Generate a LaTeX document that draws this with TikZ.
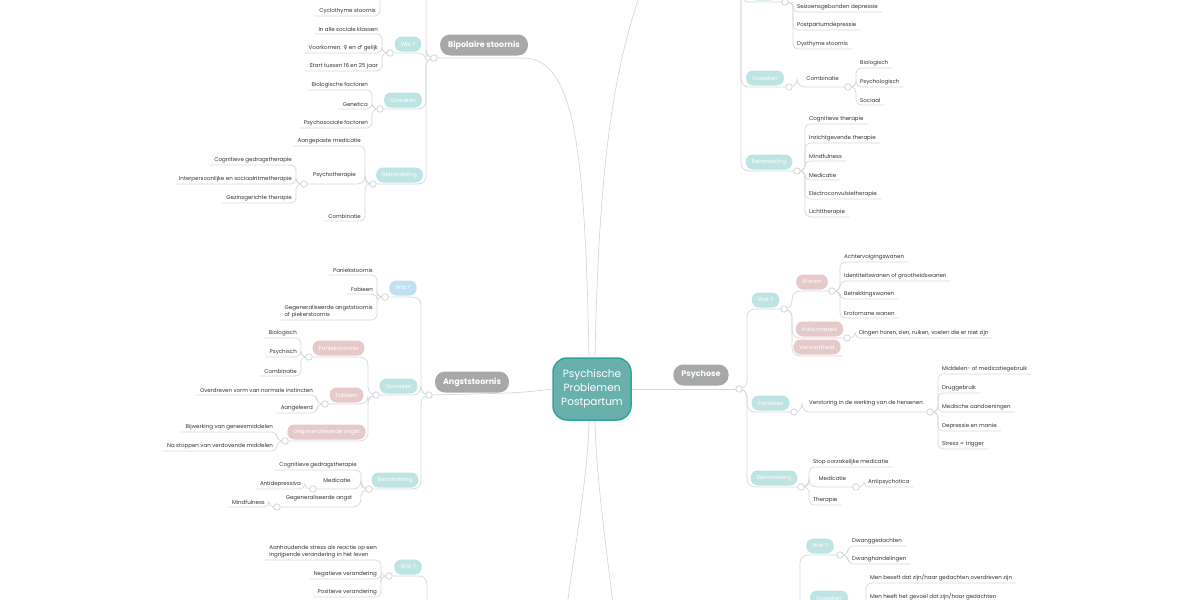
\documentclass[tikz,border=0pt]{standalone}
\usepackage{fontspec}
\setmainfont{Poppins}
\newfontfamily\symfont{DejaVu Sans}
\usetikzlibrary{calc}
\definecolor{linkc}{HTML}{D2D7DA}
\definecolor{pillc}{HTML}{BEE3E3}
\definecolor{pillb}{HTML}{C0DFF2}
\definecolor{pillp}{HTML}{E6CACA}
\definecolor{mainc}{HTML}{A7A8A9}
\definecolor{centc}{HTML}{69B0AC}
\definecolor{centd}{HTML}{2EA69E}
\definecolor{leaft}{HTML}{333333}
\tikzset{
  link/.style={draw=linkc, line width=0.7pt},
  leaf/.style={inner xsep=4pt, inner ysep=2pt, align=left, text=leaft, font=\fontsize{5.5}{7}\selectfont},
  plain/.style={leaf},
  pill/.style={rounded corners=7pt, minimum height=15pt, inner xsep=6pt, inner ysep=0pt, text=white, font=\fontsize{5.5}{6}\selectfont},
  pillC/.style={pill, fill=pillc},
  pillB/.style={pill, fill=pillb},
  pillP/.style={pill, fill=pillp},
  main/.style={rounded corners=10pt, minimum height=21pt, inner xsep=8pt, fill=mainc, text=white, font=\fontsize{8}{9}\selectfont\bfseries},
  junc/.style={circle, draw=linkc, line width=0.8pt, fill=white, inner sep=0pt, minimum size=6.5pt}
}
% leaves: name, parent junction, line y, text
\newcommand{\leafL}[4]{
  \node[leaf, anchor=south east, xshift=-8pt] (#1) at (#2 |- 0,#3) {#4};
  \draw[link, rounded corners=5pt] (#2) -| (#1.south east) -- (#1.south west);
}
\newcommand{\leafR}[4]{
  \node[leaf, anchor=south west, xshift=8pt] (#1) at (#2 |- 0,#3) {#4};
  \draw[link, rounded corners=5pt] (#2) -| (#1.south west) -- (#1.south east);
}
% sub branches: name, parent junction, line y, length, style, text
\newcommand{\catL}[6]{
  \coordinate (#1-e) at ($(#2 |- 0,#3)+(-8,0)$);
  \coordinate (#1-j) at ($(#1-e)+(-#4,0)$);
  \draw[link, rounded corners=8pt] (#2) -| (#1-e) -- (#1-j);
  \node[#5] (#1) at ($(#1-e)!0.5!(#1-j)+(0,-9)$) {#6};
}
\newcommand{\catR}[6]{
  \coordinate (#1-e) at ($(#2 |- 0,#3)+(8,0)$);
  \coordinate (#1-j) at ($(#1-e)+(#4,0)$);
  \draw[link, rounded corners=8pt] (#2) -| (#1-e) -- (#1-j);
  \node[#5] (#1) at ($(#1-e)!0.5!(#1-j)+(0,-9)$) {#6};
}
\begin{document}
\begin{tikzpicture}[x=1pt, y=-1pt]
\useasboundingbox (0,0) rectangle (1200,600);

% centre
\node[rounded corners=14pt, fill=centc, draw=centd, line width=1.5pt, minimum width=78pt, minimum height=62pt, align=center, text=white, font=\fontsize{10.5}{14}\selectfont] (cen) at (592,389) {Psychische\\Problemen\\Postpartum};

% main branches
\coordinate (bip-e) at (523,58);
\coordinate (bip-j) at (434,58);
\draw[link] ([xshift=-3pt]cen.north) .. controls (585,150) and (575,58) .. (bip-e) -- (bip-j);
\node[main] (bip) at (484,45) {Bipolaire stoornis};

\coordinate (ang-j) at (429,395);
\draw[link] (cen.west) .. controls (520,393) .. (ang-j);
\node[main] (ang) at (472,382) {Angststoornis};

\coordinate (psy-j) at (739,389);
\draw[link] (cen.east) -- (psy-j);
\node[main] (psy) at (701,375) {Psychose};

\coordinate (dep-j) at (733,-60);
\draw[link] ([xshift=3pt]cen.north) .. controls (600,100) and (625,30) .. (660,-60) -- (dep-j);

\coordinate (aanp-j) at (435,660);
\draw[link] ([xshift=-3pt]cen.south) .. controls (588,480) and (572,560) .. (560,660) -- (aanp-j);

\coordinate (ocd-j) at (792,660);
\draw[link] ([xshift=3pt]cen.south) .. controls (596,480) and (608,560) .. (620,660) -- (ocd-j);

% Bipolaire stoornis
\catL{bwat}{bip-j}{-25}{38}{pillC}{Wat ?}
\leafL{cyc}{bwat-j}{16}{Cyclothyme stoornis}
\catL{bwie}{bip-j}{53}{36}{pillC}{Wie ?}
\leafL{soc}{bwie-j}{34}{In alle sociale klassen}
\leafL{voo}{bwie-j}{53}{Voorkomen: {\symfont ♀} en {\symfont ♂} gelijk}
\leafL{sta}{bwie-j}{71}{Start tussen 16 en 25 jaar}
\catL{boor}{bip-j}{109}{46}{pillC}{Oorzaken}
\leafL{bio}{boor-j}{90}{Biologische factoren}
\leafL{gen}{boor-j}{109}{Genetica}
\leafL{psf}{boor-j}{128}{Psychosociale factoren}
\catL{bbeh}{bip-j}{184}{53}{pillC}{Behandeling}
\leafL{aan}{bbeh-j}{146}{Aangepaste medicatie}
\catL{bpsy}{bbeh-j}{184}{61}{plain}{Psychotherapie}
\leafL{cgt}{bpsy-j}{165}{Cognitieve gedragstherapie}
\leafL{ipt}{bpsy-j}{184}{Interpersoonlijke en sociaalritmetherapie}
\leafL{gez}{bpsy-j}{203}{Gezinsgerichte therapie}
\leafL{com}{bbeh-j}{221}{Combinatie}

% Angststoornis
\catL{awat}{ang-j}{297}{36}{pillB}{Wat ?}
\leafL{pan}{awat-j}{275}{Paniekstoornis}
\leafL{fob}{awat-j}{294}{Fobieen}
\leafL{gas}{awat-j}{320}{Gegeneraliseerde angststoornis\\of piekerstoornis}
\catL{aoor}{ang-j}{395}{45}{pillC}{Oorzaken}
\catL{apan}{aoor-j}{357}{59}{pillP}{Paniekstoornis}
\leafL{abio}{apan-j}{338}{Biologisch}
\leafL{apsy}{apan-j}{357}{Psychisch}
\leafL{acom}{apan-j}{376}{Combinatie}
\catL{afob}{aoor-j}{404}{43}{pillP}{Fobieen}
\leafL{ins}{afob-j}{395}{Overdreven vorm van normale instincten}
\leafL{gel}{afob-j}{413}{Aangeleerd}
\catL{agen}{aoor-j}{441}{83}{pillP}{Gegeneraliseerde angst}
\leafL{bij}{agen-j}{432}{Bijwerking van geneesmiddelen}
\leafL{nas}{agen-j}{451}{Na stoppen van verdovende middelen}
\catL{abeh}{ang-j}{489}{52}{pillC}{Behandeling}
\leafL{acgt}{abeh-j}{470}{Cognitieve gedragstherapie}
\catL{amed}{abeh-j}{489}{48}{plain}{Medicatie}
\leafL{ad}{amed-j}{489}{Antidepressiva}
\catL{aga}{abeh-j}{507}{84}{plain}{Gegeneraliseerde angst}
\leafL{mf}{aga-j}{507}{Mindfulness}

% onderaan links
\catL{pwat}{aanp-j}{576}{38}{pillC}{Wat ?}
\leafL{aanh}{pwat-j}{560}{Aanhoudende stress als reactie op een\\ingrijpende verandering in het leven}
\leafL{neg}{pwat-j}{579}{Negatieve verandering}
\leafL{pos}{pwat-j}{597}{Positieve verandering}

% bovenaan rechts
\catR{dwat}{dep-j}{2}{44}{pillC}{Wat ?}
\leafR{s1}{dwat-j}{12}{Seizoensgebonden depressie}
\leafR{s2}{dwat-j}{30}{Postpartumdepressie}
\leafR{s3}{dwat-j}{49}{Dysthyme stoornis}
\catR{door}{dep-j}{87}{48}{pillC}{Oorzaken}
\catR{dcom}{door-j}{87}{51}{plain}{Combinatie}
\leafR{dbio}{dcom-j}{68}{Biologisch}
\leafR{dpsy}{dcom-j}{87}{Psychologisch}
\leafR{dsoc}{dcom-j}{105}{Sociaal}
\catR{dbeh}{dep-j}{171}{56}{pillC}{Behandeling}
\leafR{t1}{dbeh-j}{124}{Cognitieve therapie}
\leafR{t2}{dbeh-j}{143}{Inzichtgevende therapie}
\leafR{t3}{dbeh-j}{161}{Mindfulness}
\leafR{t4}{dbeh-j}{180}{Medicatie}
\leafR{t5}{dbeh-j}{199}{Electroconvulsietherapie}
\leafR{t6}{dbeh-j}{217}{Lichttherapie}

% Psychose
\catR{qwat}{psy-j}{309}{37}{pillC}{Wat ?}
\catR{wan}{qwat-j}{291}{40}{pillP}{Wanen}
\leafR{w1}{wan-j}{262}{Achtervolgingswanen}
\leafR{w2}{wan-j}{281}{Identiteitswanen of grootheidswanen}
\leafR{w3}{wan-j}{299}{Betrekkingswanen}
\leafR{w4}{wan-j}{318}{Erotomane wanen}
\catR{hal}{qwat-j}{338}{55}{pillP}{Hallucinaties}
\leafR{ding}{hal-j}{338}{Dingen horen, zien, ruiken, voelen die er niet zijn}
\catR{ver}{qwat-j}{356}{50}{pillP}{Verwardheid}
\catR{qoor}{psy-j}{412}{47}{pillC}{Oorzaken}
\catR{vst}{qoor-j}{412}{128}{plain}{Verstoring in de werking van de hersenen}
\leafR{m1}{vst-j}{374}{Middelen- of medicatiegebruik}
\leafR{m2}{vst-j}{393}{Druggebruik}
\leafR{m3}{vst-j}{412}{Medische aandoeningen}
\leafR{m4}{vst-j}{431}{Depressie en manie}
\leafR{m5}{vst-j}{449}{Stress = trigger}
\catR{qbeh}{psy-j}{487}{54}{pillC}{Behandeling}
\leafR{stop}{qbeh-j}{467}{Stop oorzakelijke medicatie}
\catR{qmed}{qbeh-j}{487}{47}{plain}{Medicatie}
\leafR{apsy}{qmed-j}{487}{Antipsychotica}
\leafR{ther}{qbeh-j}{505}{Therapie}

% onderaan rechts
\catR{owat}{ocd-j}{555}{40}{pillC}{Wat ?}
\leafR{dw1}{owat-j}{546}{Dwanggedachten}
\leafR{dw2}{owat-j}{564}{Dwanghandelingen}
\catR{ooor}{ocd-j}{607}{58}{pillC}{Oorzaken}
\leafR{mb}{ooor-j}{583}{Men beseft dat zijn/haar gedachten overdreven zijn}
\leafR{mh}{ooor-j}{602}{Men heeft het gevoel dat zijn/haar gedachten}

% junctions
\foreach \j in {bip-j, ang-j, psy-j, bwat-j, bwie-j, boor-j, bbeh-j, bpsy-j,
  awat-j, aoor-j, apan-j, afob-j, agen-j, abeh-j, amed-j, aga-j, pwat-j,
  dwat-j, door-j, dcom-j, dbeh-j, qwat-j, wan-j, hal-j, qoor-j, vst-j,
  qbeh-j, qmed-j, owat-j, ooor-j}
  \node[junc] at (\j) {};
\end{tikzpicture}
\end{document}
